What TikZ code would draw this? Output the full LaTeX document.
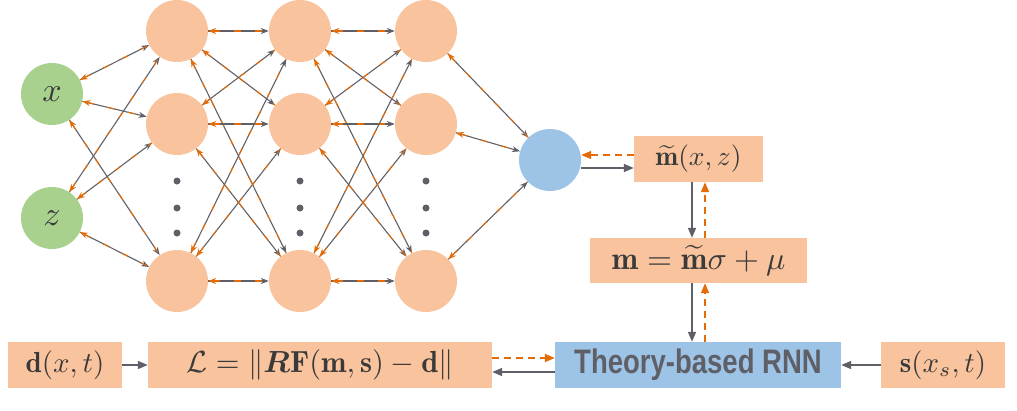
\documentclass[tikz,border=0pt]{standalone}
\usepackage{fontspec}
\usepackage{amsmath}
\usetikzlibrary{arrows.meta}
\definecolor{peach}{HTML}{F8C39D}
\definecolor{leaf}{HTML}{A9D18E}
\definecolor{sky}{HTML}{9DC3E6}
\definecolor{org}{HTML}{E36C09}
\definecolor{gry}{HTML}{5F5F68}
\definecolor{txt}{HTML}{3A3A3A}
\newfontfamily\rnnfont{Liberation Sans}
\newcommand{\bigtx}[2]{\scalebox{#1}{#2}}
\begin{document}
\begin{tikzpicture}[x=1pt,y=-1pt,
  neuron/.style={circle,fill=peach,minimum size=62pt,inner sep=0pt},
  inp/.style={circle,fill=leaf,minimum size=62pt,inner sep=0pt,text=txt},
  boxn/.style={fill=peach,inner sep=0pt,text=txt},
  fw/.style={draw=gry,line width=1.1pt,-{Stealth[length=8pt,width=6pt]}},
  bw/.style={draw=org,line width=1.1pt,dash pattern=on 7pt off 14pt,{Stealth[length=8pt,width=6pt]}-},
  fwd/.style={draw=gry,line width=1.6pt,-{Triangle[length=10pt,width=8pt]}},
  bwd/.style={draw=org,line width=1.6pt,dash pattern=on 7pt off 5pt,-{Triangle[length=10pt,width=8pt]}},
  dot/.style={circle,fill=gry,inner sep=0pt,minimum size=7pt}]
\useasboundingbox (0,0) rectangle (1017,410);
\node[inp] (x) at (52,94) {\bigtx{3.4}{$x$}};
\node[inp] (z) at (52,218) {\bigtx{3.4}{$z$}};
\foreach \c/\xx in {a/177,b/300,c/426}{
  \node[neuron] (\c1) at (\xx,31) {};
  \node[neuron] (\c2) at (\xx,124) {};
  \node[neuron] (\c3) at (\xx,281) {};
  \node[dot] (\c d1) at (\xx,181) {};
  \node[dot] (\c d2) at (\xx,208) {};
  \node[dot] (\c d3) at (\xx,233) {};
}
\node[circle,fill=sky,minimum size=62pt,inner sep=0pt] (o) at (550,160) {};
% edges
\foreach \s in {x,z}{\foreach \t in {a1,a2,a3}{
  \draw[fw] (\s) -- (\t); \draw[bw] (\s) -- (\t);}}
\foreach \s/\tt in {a/b,b/c}{\foreach \i in {1,2,3}{\foreach \j in {1,2,3}{
  \draw[fw] (\s\i) -- (\tt\j); \draw[bw] (\s\i) -- (\tt\j);}}}
\foreach \i in {1,2,3}{\draw[fw] (c\i) -- (o); \draw[bw] (c\i) -- (o);}
% boxes
\node[boxn,minimum width=129pt,minimum height=46pt] (mt) at (698.5,159) {\bigtx{2.75}{$\widetilde{\mathbf{m}}(x,z)$}};
\node[boxn,minimum width=217pt,minimum height=45pt] (mm) at (698.5,260.5) {\bigtx{3.2}{$\mathbf{m}=\widetilde{\mathbf{m}}\sigma+\mu$}};
\node[fill=sky,inner sep=0pt,minimum width=286pt,minimum height=46pt,text=gry] (rnn) at (698,365)
  {\rnnfont\bfseries\scalebox{2.75}[3.4]{Theory-based RNN}};
\node[boxn,minimum width=124pt,minimum height=46pt] (s) at (943,365) {\bigtx{2.9}{$\mathbf{s}(x_s,t)$}};
\node[boxn,minimum width=114pt,minimum height=46pt] (d) at (65,365) {\bigtx{2.9}{$\mathbf{d}(x,t)$}};
\node[boxn,minimum width=344pt,minimum height=46pt] (L) at (320,365) {\bigtx{3.05}{$\mathcal{L}=\lVert \boldsymbol{R}\mathbf{F}(\mathbf{m},\mathbf{s})-\mathbf{d}\rVert$}};
% pipeline arrows
\draw[fwd] (o.east |- 0,168) -- (mt.west |- 0,168);
\draw[bwd] (mt.west |- 0,155) -- (o.east |- 0,155);
\draw[fwd] (mt.south -| 692,0) -- (mm.north -| 692,0);
\draw[bwd] (mm.north -| 705,0) -- (mt.south -| 705,0);
\draw[fwd] (mm.south -| 692,0) -- (rnn.north -| 692,0);
\draw[bwd] (rnn.north -| 705,0) -- (mm.south -| 705,0);
\draw[fwd] (d.east) -- (L.west);
\draw[bwd] (L.east |- 0,358) -- (rnn.west |- 0,358);
\draw[fwd] (rnn.west |- 0,372) -- (L.east |- 0,372);
\draw[fwd] (s.west) -- (rnn.east);
\end{tikzpicture}
\end{document}
